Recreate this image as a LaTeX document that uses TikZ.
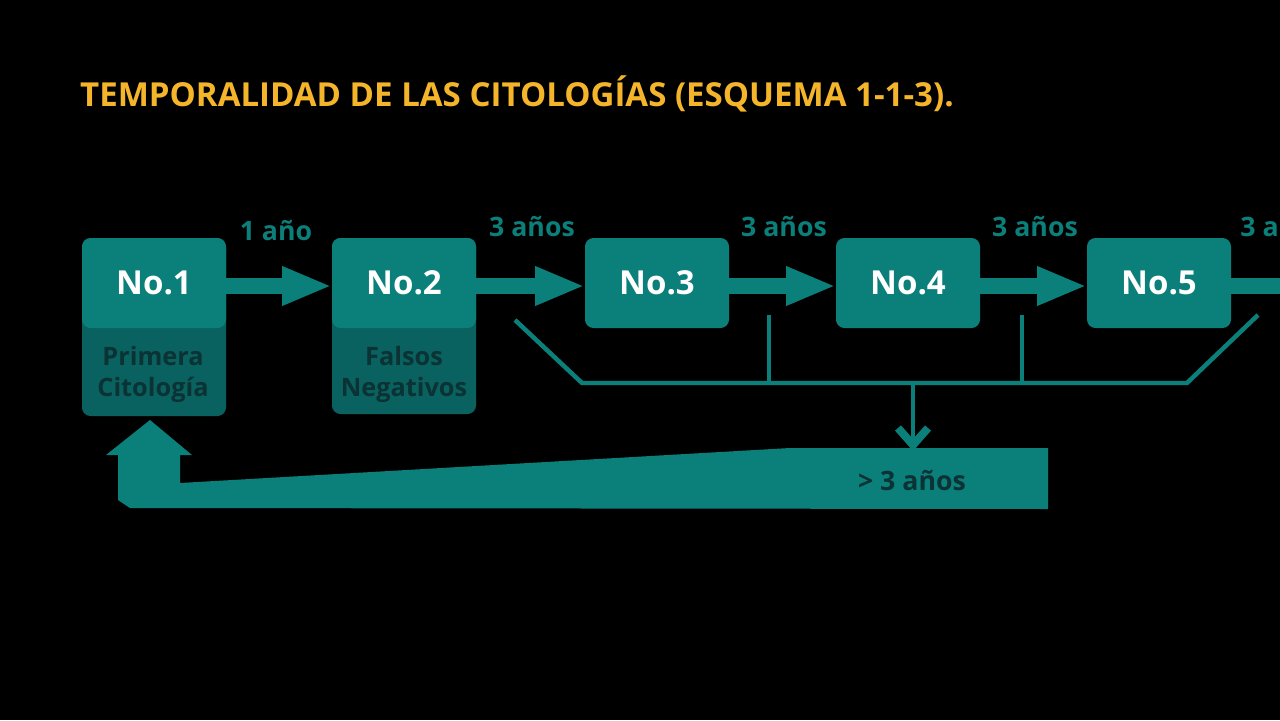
\documentclass[tikz,border=0pt]{standalone}
\usepackage{fontspec}
\setmainfont{Open Sans}
\usetikzlibrary{arrows.meta}
\definecolor{teal1}{HTML}{0B7F7A}
\definecolor{teal2}{HTML}{09625F}
\definecolor{dtext}{HTML}{0B3234}
\definecolor{ttl}{HTML}{F5B52A}
\begin{document}
\begin{tikzpicture}[x=0.05cm,y=-0.05cm,
  topbox/.style={fill=teal1,rounded corners=12pt,minimum width=144*0.05cm,minimum height=90*0.05cm,inner sep=0pt,text=white,font=\bfseries\fontsize{47}{50}\selectfont},
  lowbox/.style={fill=teal2,rounded corners=12pt,minimum width=144*0.05cm,inner sep=0pt},
  sub/.style={text=dtext,align=center,font=\bfseries\fontsize{36}{44}\selectfont},
  lbl/.style={text=teal1,font=\bfseries\fontsize{38}{40}\selectfont},
  conn/.style={draw=teal1,line width=4.5pt*1.417},
  fat/.style={fill=teal1}]
\fill[black] (0,0) rectangle (1280,720);
\clip (0,0) rectangle (1280,720);
\node[anchor=base west,text=ttl,font=\bfseries\fontsize{47}{50}\selectfont,inner sep=0pt] (title) at (80,106) {TEMPORALIDAD DE LAS CITOLOGÍAS (ESQUEMA 1-1-3).};
% lower parts
\node[lowbox,minimum height=176*0.05cm] (l1) at (154,328) {};
\node[lowbox,minimum height=176*0.05cm] (l2) at (404,326) {};
\node[sub] (t1) at (153,374) {Primera\\Citología};
\node[sub] (t2) at (404,374) {Falsos\\Negativos};
% top boxes
\node[topbox] (b1) at (154,283) {No.1};
\node[topbox] (b2) at (404,283) {No.2};
\node[topbox] (b3) at (657,283) {No.3};
\node[topbox] (b4) at (908,283) {No.4};
\node[topbox] (b5) at (1159,283) {No.5};
\coordinate (e6) at (1290,286);
% arrows
\foreach \a/\b in {b1/b2,b2/b3,b3/b4,b4/b5}{
  \draw[teal1,line width=16*1.417pt,-{Triangle[length=50*1.417pt,width=36*1.417pt]}] (\a.east|-0,286) -- (\b.west|-0,286);
}
\draw[teal1,line width=16*1.417pt] (b5.east|-0,286) -- (e6);
% labels
\node[lbl] (y1) at (276,231) {1 año};
\node[lbl] (y2) at (532,227) {3 años};
\node[lbl] (y3) at (784,227) {3 años};
\node[lbl] (y4) at (1035,227) {3 años};
\node[lbl,anchor=west] (y5) at (1238,227) {3 años};
% bracket
\coordinate (p1) at (515,320); \coordinate (p2) at (582,383);
\coordinate (p3) at (1187,383); \coordinate (p4) at (1258,315);
\coordinate (v1) at (769,315); \coordinate (v2) at (1022,315);
\coordinate (m) at (913,383); \coordinate (mt) at (913,445);
\draw[conn] (p1) -- (p2) -- (p3) -- (p4);
\draw[conn] (v1) -- (v1|-p2);
\draw[conn] (v2) -- (v2|-p2);
\draw[conn] (m) -- (mt);
\draw[teal1,line width=8pt*1.417] (898,428) -- (mt) -- (928,428);
% big return shape
\fill[teal1] (150,420) -- (192,455) -- (180,455) -- (180,483) -- (790,448) -- (1048,448) -- (1048,509) -- (130,508) -- (118,500) -- (118,455) -- (106,455) -- cycle;
\node[text=dtext,font=\bfseries\fontsize{38}{40}\selectfont] (gt) at (912,481) {> 3 años};
\end{tikzpicture}
\end{document}
